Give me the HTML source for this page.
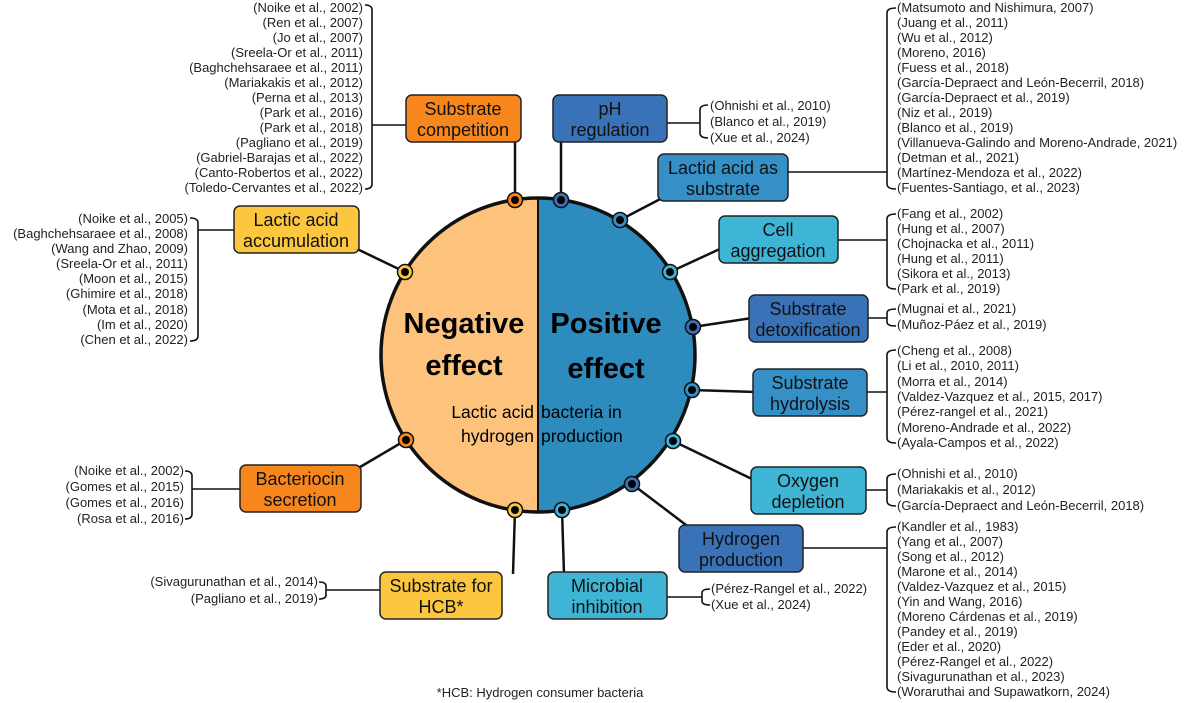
<!DOCTYPE html>
<html><head><meta charset="utf-8"><style>
html,body{margin:0;padding:0;background:#fff;}
svg{display:block;font-family:"Liberation Sans",Arial,sans-serif;}
.r{font-size:13px;fill:#222;}
.b{font-size:18px;fill:#111;}
.ln{stroke:#111;stroke-width:2.5;fill:none;}
.br{stroke:#111;stroke-width:1.6;fill:none;}
.bx{stroke:#222;stroke-width:1.5;}
</style></head><body>
<svg width="1200" height="703" viewBox="0 0 1200 703">
<g class="ln">
<line x1="515" y1="142" x2="515" y2="200"/>
<line x1="561" y1="142" x2="561" y2="200"/>
<line x1="620" y1="220" x2="668" y2="195"/>
<line x1="670" y1="272" x2="722" y2="248"/>
<line x1="693" y1="327" x2="752" y2="318"/>
<line x1="692" y1="390" x2="756" y2="392"/>
<line x1="673" y1="441" x2="754" y2="480"/>
<line x1="632" y1="484" x2="690" y2="528"/>
<line x1="562" y1="510" x2="564" y2="574"/>
<line x1="515" y1="510" x2="513" y2="574"/>
<line x1="406" y1="440" x2="355" y2="470"/>
<line x1="405" y1="272" x2="355" y2="248"/>
</g>
<g class="br">
<line x1="372" y1="125" x2="406" y2="125"/>
<path d="M365,5 q7,0 7,5 V184 q0,5 -7,5"/>
<line x1="667" y1="123" x2="700" y2="123"/>
<path d="M708,105 q-8,0 -8,5 V133 q0,5 8,5"/>
<line x1="788" y1="172" x2="887" y2="172"/>
<path d="M896,8 q-9,0 -9,5 V184 q0,5 9,5"/>
<line x1="838" y1="240" x2="887" y2="240"/>
<path d="M896,214 q-9,0 -9,5 V284 q0,5 9,5"/>
<line x1="868" y1="318" x2="887" y2="318"/>
<path d="M896,309 q-9,0 -9,4 V322 q0,4 9,4"/>
<line x1="867" y1="392" x2="887" y2="392"/>
<path d="M896,350 q-9,0 -9,5 V438 q0,5 9,5"/>
<line x1="866" y1="490" x2="887" y2="490"/>
<path d="M896,474 q-9,0 -9,5 V501 q0,5 9,5"/>
<line x1="803" y1="548" x2="887" y2="548"/>
<path d="M896,527 q-9,0 -9,5 V687 q0,5 9,5"/>
<line x1="667" y1="597" x2="702" y2="597"/>
<path d="M710,589 q-8,0 -8,4 V601 q0,4 8,4"/>
<line x1="326" y1="590" x2="380" y2="590"/>
<path d="M319,582 q7,0 7,4 V595 q0,4 -7,4"/>
<line x1="192" y1="489" x2="240" y2="489"/>
<path d="M185,471 q7,0 7,5 V514 q0,5 -7,5"/>
<line x1="198" y1="230" x2="234" y2="230"/>
<path d="M190,218 q8,0 8,5 V336 q0,5 -8,5"/>
</g>
<path d="M538,198 A157,157 0 0 0 538,512 Z" fill="#fdc37d"/>
<path d="M538,198 A157,157 0 0 1 538,512 Z" fill="#2e8bbd"/>
<circle cx="538" cy="355" r="157" fill="none" stroke="#111" stroke-width="3.5"/>
<line x1="538" y1="198" x2="538" y2="512" stroke="#111" stroke-width="2"/>
<g font-weight="bold" font-size="29" fill="#000" text-anchor="middle">
<text x="464" y="333">Negative</text><text x="464" y="375">effect</text>
<text x="606" y="333">Positive</text><text x="606" y="378">effect</text>
</g>
<g font-size="17.5" fill="#000">
<text x="534" y="418" text-anchor="end">Lactic acid</text>
<text x="541" y="418">bacteria in</text>
<text x="534" y="442" text-anchor="end">hydrogen</text>
<text x="541" y="442">production</text>
</g>
<g stroke="#111" stroke-width="1.5">
<circle cx="515" cy="200" r="7.5" fill="#f7861c"/>
<circle cx="561" cy="200" r="7.5" fill="#3a72b8"/>
<circle cx="620" cy="220" r="7.5" fill="#3590c8"/>
<circle cx="670" cy="272" r="7.5" fill="#3fb5d6"/>
<circle cx="693" cy="327" r="7.5" fill="#3a72b8"/>
<circle cx="692" cy="390" r="7.5" fill="#3590c8"/>
<circle cx="673" cy="441" r="7.5" fill="#3fb5d6"/>
<circle cx="632" cy="484" r="7.5" fill="#3a72b8"/>
<circle cx="562" cy="510" r="7.5" fill="#3fb5d6"/>
<circle cx="515" cy="510" r="7.5" fill="#fcc63e"/>
<circle cx="406" cy="440" r="7.5" fill="#f7861c"/>
<circle cx="405" cy="272" r="7.5" fill="#fcc63e"/>
</g>
<g fill="#000">
<circle cx="515" cy="200" r="4"/><circle cx="561" cy="200" r="4"/><circle cx="620" cy="220" r="4"/>
<circle cx="670" cy="272" r="4"/><circle cx="693" cy="327" r="4"/><circle cx="692" cy="390" r="4"/>
<circle cx="673" cy="441" r="4"/><circle cx="632" cy="484" r="4"/><circle cx="562" cy="510" r="4"/>
<circle cx="515" cy="510" r="4"/><circle cx="406" cy="440" r="4"/><circle cx="405" cy="272" r="4"/>
</g>
<g class="bx">
<rect x="406" y="95" width="115" height="47" rx="6" fill="#f7861c"/>
<rect x="553" y="95" width="114" height="47" rx="6" fill="#3a72b8"/>
<rect x="658" y="154" width="130" height="47" rx="6" fill="#3590c8"/>
<rect x="719" y="216" width="119" height="47" rx="6" fill="#3fb5d6"/>
<rect x="749" y="295" width="119" height="47" rx="6" fill="#3a72b8"/>
<rect x="753" y="369" width="114" height="47" rx="6" fill="#3590c8"/>
<rect x="751" y="467" width="115" height="47" rx="6" fill="#3fb5d6"/>
<rect x="679" y="525" width="124" height="47" rx="6" fill="#3a72b8"/>
<rect x="548" y="572" width="119" height="47" rx="6" fill="#3fb5d6"/>
<rect x="380" y="572" width="122" height="47" rx="6" fill="#fcc63e"/>
<rect x="240" y="465" width="121" height="47" rx="6" fill="#f7861c"/>
<rect x="234" y="206" width="125" height="47" rx="6" fill="#fcc63e"/>
</g>
<g class="b" text-anchor="middle">
<text x="463" y="115">Substrate</text><text x="463" y="136">competition</text>
<text x="610" y="115">pH</text><text x="610" y="136">regulation</text>
<text x="723" y="174">Lactid acid as</text><text x="723" y="195">substrate</text>
<text x="778" y="236">Cell</text><text x="778" y="257">aggregation</text>
<text x="808" y="315">Substrate</text><text x="808" y="336">detoxification</text>
<text x="810" y="389">Substrate</text><text x="810" y="410">hydrolysis</text>
<text x="808" y="487">Oxygen</text><text x="808" y="508">depletion</text>
<text x="741" y="545">Hydrogen</text><text x="741" y="566">production</text>
<text x="607" y="592">Microbial</text><text x="607" y="613">inhibition</text>
<text x="441" y="592">Substrate for</text><text x="441" y="613">HCB*</text>
<text x="300" y="485">Bacteriocin</text><text x="300" y="506">secretion</text>
<text x="296" y="226">Lactic acid</text><text x="296" y="247">accumulation</text>
</g>
<g class="r" text-anchor="end">
<text x="363" y="12">(Noike et al., 2002)</text>
<text x="363" y="27">(Ren et al., 2007)</text>
<text x="363" y="42">(Jo et al., 2007)</text>
<text x="363" y="57">(Sreela-Or et al., 2011)</text>
<text x="363" y="72">(Baghchehsaraee et al., 2011)</text>
<text x="363" y="87">(Mariakakis et al., 2012)</text>
<text x="363" y="102">(Perna et al., 2013)</text>
<text x="363" y="117">(Park et al., 2016)</text>
<text x="363" y="132">(Park et al., 2018)</text>
<text x="363" y="147">(Pagliano et al., 2019)</text>
<text x="363" y="162">(Gabriel-Barajas et al., 2022)</text>
<text x="363" y="177">(Canto-Robertos et al., 2022)</text>
<text x="363" y="192">(Toledo-Cervantes et al., 2022)</text>
<text x="318" y="586">(Sivagurunathan et al., 2014)</text>
<text x="318" y="603">(Pagliano et al., 2019)</text>
<text x="184" y="475">(Noike et al., 2002)</text>
<text x="184" y="491">(Gomes et al., 2015)</text>
<text x="184" y="507">(Gomes et al., 2016)</text>
<text x="184" y="523">(Rosa et al., 2016)</text>
<text x="188" y="223">(Noike et al., 2005)</text>
<text x="188" y="238">(Baghchehsaraee et al., 2008)</text>
<text x="188" y="253">(Wang and Zhao, 2009)</text>
<text x="188" y="268">(Sreela-Or et al., 2011)</text>
<text x="188" y="283">(Moon et al., 2015)</text>
<text x="188" y="298">(Ghimire et al., 2018)</text>
<text x="188" y="314">(Mota et al., 2018)</text>
<text x="188" y="329">(Im et al., 2020)</text>
<text x="188" y="344">(Chen et al., 2022)</text>
</g>
<g class="r">
<text x="710" y="110">(Ohnishi et al., 2010)</text>
<text x="710" y="126">(Blanco et al., 2019)</text>
<text x="710" y="142">(Xue et al., 2024)</text>
<text x="897" y="12">(Matsumoto and Nishimura, 2007)</text>
<text x="897" y="27">(Juang et al., 2011)</text>
<text x="897" y="42">(Wu et al., 2012)</text>
<text x="897" y="57">(Moreno, 2016)</text>
<text x="897" y="72">(Fuess et al., 2018)</text>
<text x="897" y="87">(García-Depraect and León-Becerril, 2018)</text>
<text x="897" y="102">(García-Depraect et al., 2019)</text>
<text x="897" y="117">(Niz et al., 2019)</text>
<text x="897" y="132">(Blanco et al., 2019)</text>
<text x="897" y="147">(Villanueva-Galindo and Moreno-Andrade, 2021)</text>
<text x="897" y="162">(Detman et al., 2021)</text>
<text x="897" y="177">(Martínez-Mendoza et al., 2022)</text>
<text x="897" y="192">(Fuentes-Santiago, et al., 2023)</text>
<text x="897" y="218">(Fang et al., 2002)</text>
<text x="897" y="233">(Hung et al., 2007)</text>
<text x="897" y="248">(Chojnacka et al., 2011)</text>
<text x="897" y="263">(Hung et al., 2011)</text>
<text x="897" y="278">(Sikora et al., 2013)</text>
<text x="897" y="293">(Park et al., 2019)</text>
<text x="897" y="313">(Mugnai et al., 2021)</text>
<text x="897" y="329">(Muñoz-Páez et al., 2019)</text>
<text x="897" y="355">(Cheng et al., 2008)</text>
<text x="897" y="370">(Li et al., 2010, 2011)</text>
<text x="897" y="386">(Morra et al., 2014)</text>
<text x="897" y="401">(Valdez-Vazquez et al., 2015, 2017)</text>
<text x="897" y="416">(Pérez-rangel et al., 2021)</text>
<text x="897" y="432">(Moreno-Andrade et al., 2022)</text>
<text x="897" y="447">(Ayala-Campos et al., 2022)</text>
<text x="897" y="478">(Ohnishi et al., 2010)</text>
<text x="897" y="494">(Mariakakis et al., 2012)</text>
<text x="897" y="510">(García-Depraect and León-Becerril, 2018)</text>
<text x="897" y="531">(Kandler et al., 1983)</text>
<text x="897" y="546">(Yang et al., 2007)</text>
<text x="897" y="561">(Song et al., 2012)</text>
<text x="897" y="576">(Marone et al., 2014)</text>
<text x="897" y="591">(Valdez-Vazquez et al., 2015)</text>
<text x="897" y="606">(Yin and Wang, 2016)</text>
<text x="897" y="621">(Moreno Cárdenas et al., 2019)</text>
<text x="897" y="636">(Pandey et al., 2019)</text>
<text x="897" y="651">(Eder et al., 2020)</text>
<text x="897" y="666">(Pérez-Rangel et al., 2022)</text>
<text x="897" y="681">(Sivagurunathan et al., 2023)</text>
<text x="897" y="696">(Woraruthai and Supawatkorn, 2024)</text>
<text x="711" y="593">(Pérez-Rangel et al., 2022)</text>
<text x="711" y="609">(Xue et al., 2024)</text>
</g>
<text class="r" x="540" y="697" text-anchor="middle">*HCB: Hydrogen consumer bacteria</text>
</svg>
</body></html>
